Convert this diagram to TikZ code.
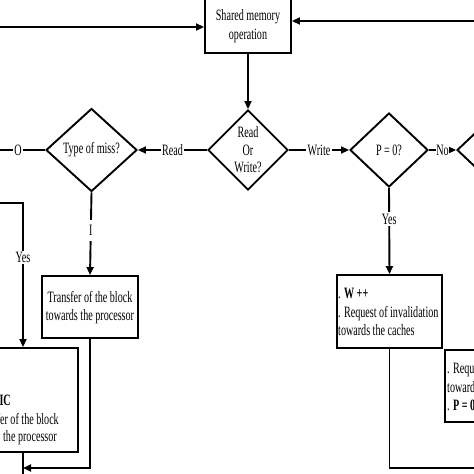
\documentclass[tikz,border=0pt]{standalone}
\usepackage{fontspec}
\setmainfont{Liberation Serif}[FakeStretch=0.64]
\usetikzlibrary{shapes.geometric,arrows.meta}
\newcommand\txtfont{\fontsize{15.8}{18.5}\selectfont}
\tikzset{
  box/.style={draw, line width=1.9pt, inner sep=0pt},
  dec/.style={draw, diamond, line width=1.9pt, inner sep=0pt},
  conn/.style={line width=1.9pt},
  arr/.style={conn, -{Triangle[length=8pt,width=7pt]}},
  lbl/.style={fill=white, inner sep=1.5pt, font=\txtfont},
  txt/.style={align=center, font=\txtfont, inner sep=0pt},
  ltxt/.style={align=left, font=\txtfont, inner sep=0pt}
}
\begin{document}
\begin{tikzpicture}[x={(1pt,0)}, y={(0,-1pt)}]
\useasboundingbox (0,0) rectangle (474,474);
\clip (0,0) rectangle (474,474);
\fill[white] (0,0) rectangle (474,474);

% top box
\node[box, minimum width=86pt, minimum height=54pt] (smo) at (248,26) {};
\node[txt] (smot) at (248,26) {Shared memory\\operation};

% diamonds
\node[dec, minimum width=80pt, minimum height=80pt] (rw) at (248,150) {};
\node[txt, font=\fontsize{15.8}{17.5}\selectfont] (rwt) at (248,150) {Read\\Or\\Write?};
\node[dec, minimum width=91pt, minimum height=83pt] (tm) at (91.5,150) {};
\node[txt] (tmt) at (91.5,150) {Type of miss?};
\node[dec, minimum width=78pt, minimum height=74pt] (p0) at (389,150) {};
\node[txt] (p0t) at (389,150) {P = 0?};
\node[dec, minimum width=78pt, minimum height=74pt] (nd) at (496,150) {};

% boxes
\node[box, minimum width=105pt, minimum height=73pt] (wb) at (389.5,311.5) {};
\node[ltxt, anchor=west] (wbt) at (338,312) {. \textbf{W ++}\\. Request of invalidation\\towards the caches};
\node[box, minimum width=120pt, minimum height=72pt] (rb) at (505,386) {};
\node[ltxt, anchor=west] (rbt) at (447,387) {. Request of invalidation\\towards the caches\\. \textbf{P = 0}};
\node[box, minimum width=96pt, minimum height=62pt] (tb) at (90,307) {};
\node[txt] (tbt) at (90,307.5) {Transfer of the block\\towards the processor};
\node[box, minimum width=126pt, minimum height=104pt] (ic) at (15,400) {};
\node[txt, anchor=east] (ic1) at (11,400) {\textbf{IC}};
\node[txt, anchor=east] (ic2) at (59,419) {Transfer of the block};
\node[txt, anchor=east] (ic3) at (57,438) {towards the processor};

% coordinates
\coordinate (lin) at (0,27);
\coordinate (rin) at (474,21);
\coordinate (oend) at (0,150);
\coordinate (ycorner) at (23,203);
\coordinate (yin) at (0,203);
\coordinate (jl) at (23,468);
\coordinate (jr) at (474,468);
\coordinate (bot) at (23,474);

% connectors
\draw[arr] (lin) -- (lin -| smo.west);
\draw[arr] (rin) -- (rin -| smo.east);
\draw[arr] (smo.south) -- (rw.north);
\draw[arr] (rw.west) -- node[lbl] {Read} (tm.east);
\draw[conn] (tm.west) -- node[lbl, pos=0.6] {O} (oend);
\draw[arr] (rw.east) -- node[lbl] {Write} (p0.west);
\draw[arr] (p0.east) -- node[lbl, inner sep=0.5pt] {No} (nd.west);
\draw[arr] (p0.south) -- node[lbl, pos=0.36] {Yes} (wb.north);
\draw[arr] (tm.south) -- node[lbl, pos=0.46, inner ysep=5pt] {I} (tb.north);
\draw[conn] (wb.south) |- (jr);
\draw[arr] (tb.south) |- (jl);
\draw[arr] (yin) -- (ycorner) -- node[lbl, pos=0.38] {Yes} (ycorner |- ic.north);
\draw[conn] (ycorner |- ic.south) -- (bot);
\end{tikzpicture}
\end{document}
